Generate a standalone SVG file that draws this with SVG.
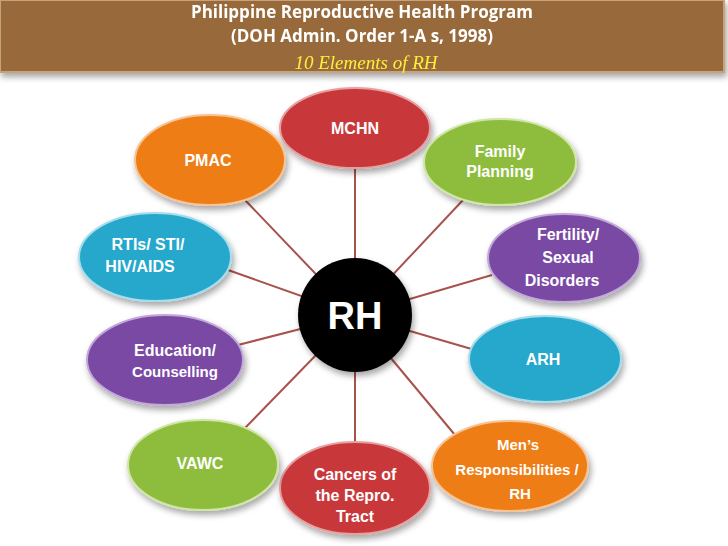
<svg xmlns="http://www.w3.org/2000/svg" width="728" height="546" viewBox="0 0 728 546">
<defs>
<style>
.t{font-family:"Liberation Sans",Arial,sans-serif;font-weight:bold;fill:#fff;font-size:16px;text-anchor:middle}
.s{font-size:15px}
.h{font-family:"Open Sans","Liberation Sans",sans-serif;font-weight:bold;fill:#fff;font-size:17px;text-anchor:middle}
.n{stroke-width:2}
</style>
<filter id="sh" x="-20%" y="-20%" width="140%" height="160%"><feDropShadow dx="2" dy="4" stdDeviation="3" flood-opacity="0.35"/></filter>
</defs>
<rect width="728" height="546" fill="#fff"/>
<g id="header" filter="url(#sh)">
<rect x="0" y="0" width="724" height="72" fill="#986a3a" stroke="#c8a27a" stroke-width="2"/>
<text class="h" x="362" y="18">Philippine Reproductive Health Program</text>
<text class="h" x="362" y="42">(DOH Admin. Order 1-A s, 1998)</text>
<text x="366" y="69" style="font-family:'Liberation Serif',serif;font-style:italic;font-size:19px" fill="#ffef3a" text-anchor="middle">10  Elements of   RH</text>
</g>
<g id="connectors" stroke="#a8524c" stroke-width="2">
<line x1="355" y1="315" x2="355" y2="168"/>
<line x1="355" y1="315" x2="463" y2="200"/>
<line x1="355" y1="315" x2="492" y2="275"/>
<line x1="355" y1="315" x2="475" y2="350"/>
<line x1="355" y1="315" x2="455" y2="435"/>
<line x1="355" y1="315" x2="355" y2="443"/>
<line x1="355" y1="315" x2="245" y2="428"/>
<line x1="355" y1="315" x2="238" y2="345"/>
<line x1="355" y1="315" x2="228" y2="270"/>
<line x1="355" y1="315" x2="245" y2="200"/>
</g>
<g id="MCHN"><ellipse cx="355" cy="128" rx="75" ry="40" fill="#c8383a" stroke="#e7a0a0" class="n" filter="url(#sh)"/><text class="t" x="355" y="134">MCHN</text></g>
<g id="FP"><ellipse cx="500" cy="162" rx="76" ry="43" fill="#8ebd3c" stroke="#cfe6a6" class="n" filter="url(#sh)"/><text class="t" x="500" y="157">Family</text><text class="t" x="500" y="177">Planning</text></g>
<g id="Fertility"><ellipse cx="564" cy="258" rx="76" ry="44" fill="#7a4aa3" stroke="#c2a8d8" class="n" filter="url(#sh)"/><text class="t" x="568" y="240">Fertility/</text><text class="t" x="568" y="263">Sexual</text><text class="t" x="562" y="286">Disorders</text></g>
<g id="ARH"><ellipse cx="545" cy="359" rx="76" ry="43" fill="#27a8cc" stroke="#a6dcec" class="n" filter="url(#sh)"/><text class="t" x="543" y="365">ARH</text></g>
<g id="Men"><ellipse cx="510" cy="466" rx="78" ry="45" fill="#ee7d16" stroke="#f7c392" class="n" filter="url(#sh)"/><text class="t s" x="518" y="450">Men’s</text><text class="t s" x="517" y="475">Responsibilities /</text><text class="t s" x="520" y="499">RH</text></g>
<g id="Cancers"><ellipse cx="355" cy="488" rx="75" ry="46" fill="#c8383a" stroke="#e7a0a0" class="n" filter="url(#sh)"/><text class="t" x="355" y="480">Cancers of</text><text class="t" x="355" y="501">the Repro.</text><text class="t" x="355" y="522">Tract</text></g>
<g id="VAWC"><ellipse cx="203" cy="465" rx="75" ry="45" fill="#8ebd3c" stroke="#cfe6a6" class="n" filter="url(#sh)"/><text class="t" x="200" y="469">VAWC</text></g>
<g id="Education"><ellipse cx="165" cy="360" rx="78" ry="45" fill="#7a4aa3" stroke="#c2a8d8" class="n" filter="url(#sh)"/><text class="t" x="175" y="356">Education/</text><text class="t s" x="175" y="377">Counselling</text></g>
<g id="RTIs"><ellipse cx="155" cy="257" rx="76" ry="44" fill="#27a8cc" stroke="#a6dcec" class="n" filter="url(#sh)"/><text class="t" x="148" y="250">RTIs/ STI/</text><text class="t" x="140" y="272">HIV/AIDS</text></g>
<g id="PMAC"><ellipse cx="210" cy="160" rx="75" ry="45" fill="#ee7d16" stroke="#f7c392" class="n" filter="url(#sh)"/><text class="t" x="208" y="166">PMAC</text></g>
<g id="RH"><circle cx="355" cy="315" r="57" fill="#000" filter="url(#sh)"/><text class="t" x="355" y="329" style="font-size:38px;font-weight:bold">RH</text></g>
</svg>
